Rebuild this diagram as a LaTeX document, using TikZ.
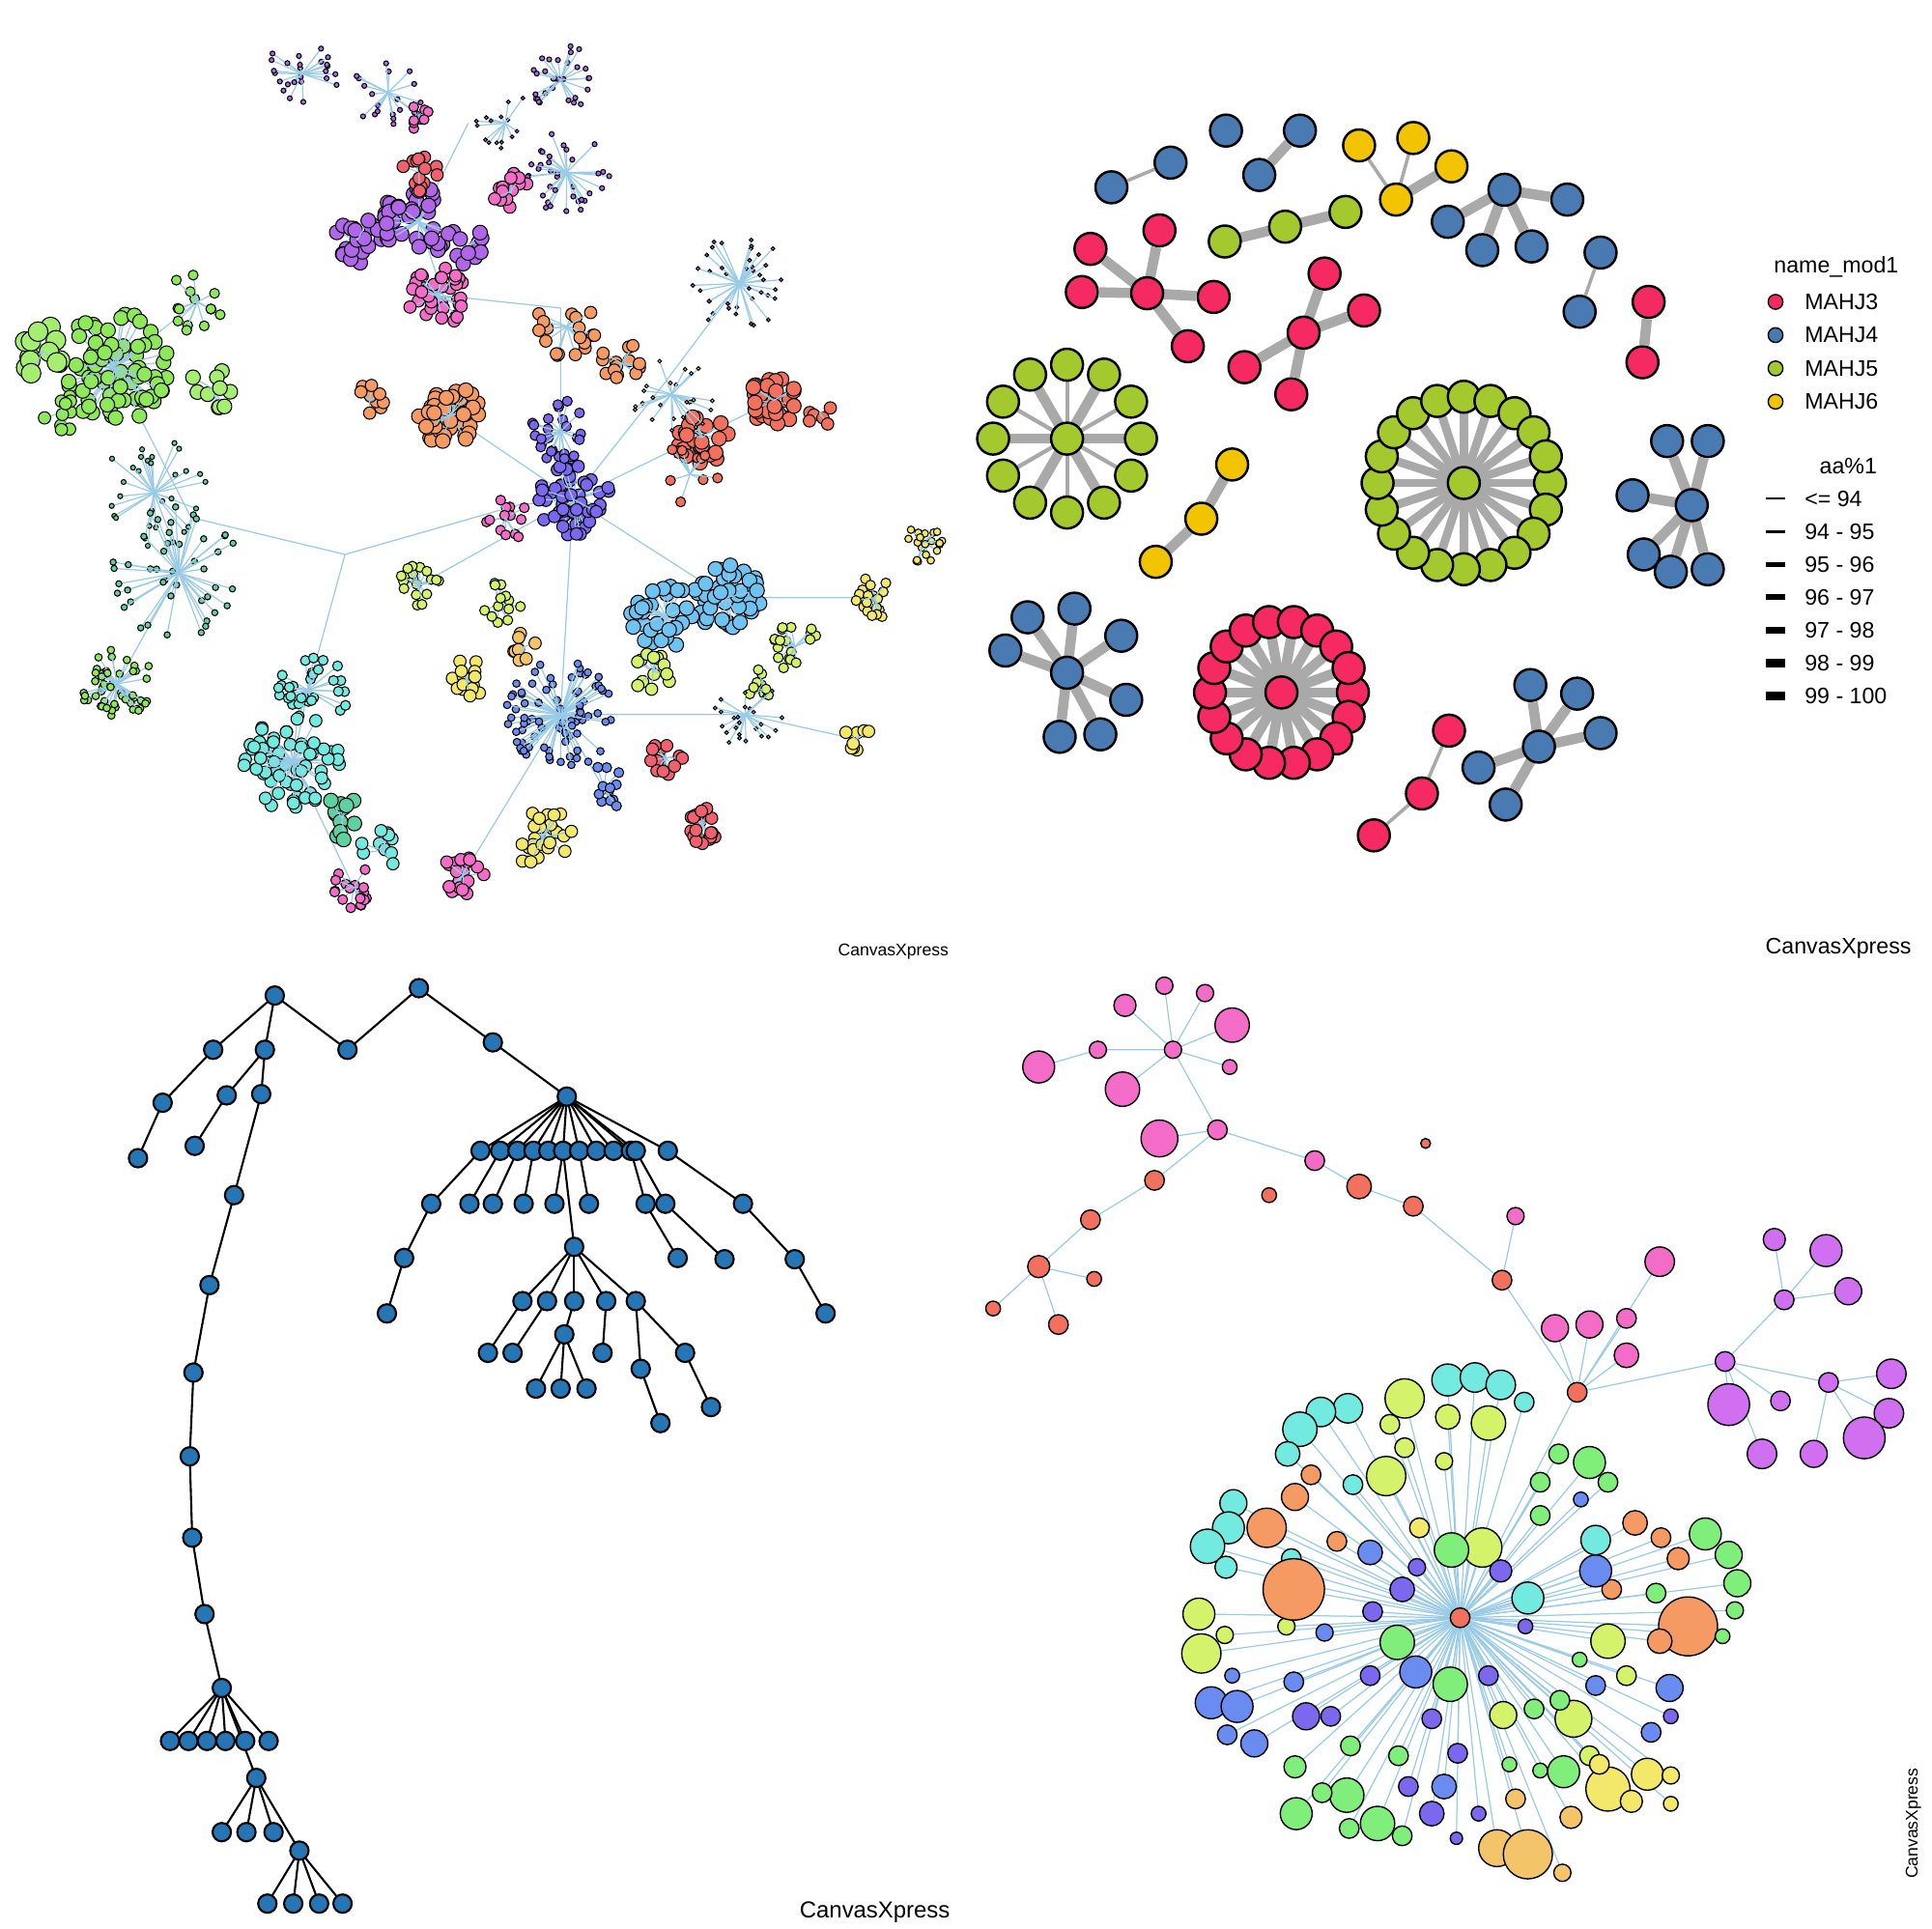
\documentclass[tikz,border=0pt]{standalone}
\usepackage{fontspec}
\setmainfont{Liberation Sans}
\usetikzlibrary{calc}
\def\u{0.3616pt}
\definecolor{cR}{HTML}{F52A63}
\definecolor{cB}{HTML}{4A7AB2}
\definecolor{cG}{HTML}{A4C92E}
\definecolor{cY}{HTML}{F2C400}
\definecolor{tB}{HTML}{2676B5}
\definecolor{eL}{HTML}{9ACBE6}
\definecolor{eG}{HTML}{A9A9A9}
\definecolor{kGreen}{HTML}{8EE85A}
\definecolor{kLGreen}{HTML}{A6EE72}
\definecolor{kTeal}{HTML}{5FD0A0}
\definecolor{kCyan}{HTML}{72EAE0}
\definecolor{kPink}{HTML}{F26CC8}
\definecolor{kPurple}{HTML}{B066E8}
\definecolor{kRed}{HTML}{F0606E}
\definecolor{kOrange}{HTML}{F59A62}
\definecolor{kSalmon}{HTML}{F2705E}
\definecolor{kViolet}{HTML}{7B68EE}
\definecolor{kSky}{HTML}{6EC3F0}
\definecolor{kLime}{HTML}{D4F26A}
\definecolor{kYellow}{HTML}{F4E86A}
\definecolor{kBlue}{HTML}{6A8CF0}
\definecolor{kLOr}{HTML}{F4C46A}
\definecolor{kGr2}{HTML}{80EE7A}
\definecolor{kMag}{HTML}{D070F0}
\tikzset{
 trn/.style={circle,draw=black,line width=0.7pt,inner sep=0pt,minimum size=26*\u},
 rn/.style={trn,fill=cR}, bn/.style={trn,fill=cB}, gn/.style={trn,fill=cG}, yn/.style={trn,fill=cY},
 te/.style={draw=eG,line width=3pt}, tt/.style={draw=eG,line width=1pt},
 bl/.style={circle,draw=black,line width=0.6pt,fill=tB,inner sep=0pt,minimum size=15*\u},
 be/.style={draw=black,line width=0.6pt},
 tl/.style={draw=eL,line width=0.35pt},
 brn/.style={circle,draw=black,line width=0.4pt,inner sep=0pt},
}
\newcommand\clus[6]{%
 \foreach \i in {1,...,#4}{%
  \pgfmathsetmacro\aa{rnd*360}\pgfmathsetmacro\rr{#3*sqrt(rnd)}%
  \draw[tl] (#1,#2) -- ++(\aa:\rr);
  \filldraw[fill=#6,draw=black,line width=0.3pt] (#1,#2) ++(\aa:\rr) circle[radius=#5*\u];}}
\newcommand\bnode[4]{\node[brn,fill=#4,minimum size=2*#3*\u] (#1) at (#2) {};}
\begin{document}
\begin{tikzpicture}[x=0.012755cm,y=-0.012755cm]
\useasboundingbox (0,0) rectangle (1568,1565);
\pgfmathsetseed{7}
% ---------- top-left ----------
\draw[tl] (93,298)--(155,420)--(145,465)--(95,555);
\draw[tl] (155,420)--(280,450)--(250,560)--(238,618);
\draw[tl] (280,450)--(420,410)--(465,405)--(455,350)--(455,250)--(360,240)--(340,180)--(380,100);
\draw[tl] (465,405)--(455,580)--(490,640); \draw[tl] (455,580)--(376,710);
\draw[tl] (465,405)--(590,485)--(710,485); \draw[tl] (465,405)--(628,325);
\draw[tl] (365,337)--(465,405)--(540,310)--(600,230);
\draw[tl] (238,618)--(287,720); \draw[tl] (455,580)--(605,580)--(695,600);
\draw[tl] (340,475)--(465,405); \draw[tl] (93,298)--(160,245);
\clus{93}{298}{45}{70}{6}{kGreen}
\clus{35}{285}{22}{12}{8}{kLGreen}
\clus{160}{245}{25}{14}{4}{kGreen}
\clus{172}{315}{18}{10}{6}{kLGreen}
\clus{50}{335}{15}{10}{5}{kGreen}
\clus{125}{400}{45}{30}{2}{kTeal}
\clus{145}{465}{55}{45}{2.5}{kTeal}
\clus{95}{555}{30}{50}{3}{kGreen}
\clus{250}{560}{35}{30}{4}{kCyan}
\clus{238}{618}{40}{60}{5}{kCyan}
\clus{278}{665}{18}{12}{6}{kTeal}
\clus{310}{690}{18}{10}{5}{kCyan}
\clus{287}{720}{17}{18}{4}{kPink}
\clus{376}{710}{17}{22}{5}{kPink}
\clus{245}{60}{30}{25}{2}{kPurple}
\clus{315}{75}{30}{20}{2}{kPurple}
\clus{455}{65}{30}{30}{2}{kPurple}
\clus{460}{140}{35}{35}{2}{kPurple}
\clus{415}{155}{15}{14}{5}{kPink}
\clus{290}{195}{20}{22}{6}{kPurple}
\clus{340}{180}{30}{40}{6}{kPurple}
\clus{355}{240}{25}{35}{5}{kPink}
\clus{380}{200}{15}{10}{6}{kPurple}
\clus{340}{140}{15}{14}{5}{kRed}
\clus{338}{95}{12}{8}{4}{kPink}
\clus{365}{337}{25}{45}{6}{kOrange}
\clus{300}{325}{14}{10}{5}{kOrange}
\clus{460}{265}{25}{18}{5}{kOrange}
\clus{505}{295}{18}{14}{5}{kOrange}
\clus{628}{325}{20}{35}{6}{kSalmon}
\clus{570}{355}{22}{25}{6}{kSalmon}
\clus{665}{335}{12}{6}{5}{kSalmon}
\clus{560}{385}{25}{12}{4}{kSalmon}
\clus{465}{405}{30}{55}{5}{kViolet}
\clus{455}{350}{25}{25}{4}{kViolet}
\clus{410}{420}{20}{14}{4}{kPink}
\clus{590}{485}{28}{45}{6}{kSky}
\clus{540}{500}{28}{30}{6}{kSky}
\clus{340}{475}{17}{18}{4}{kLime}
\clus{405}{490}{18}{14}{4}{kLime}
\clus{530}{545}{17}{14}{5}{kLime}
\clus{645}{525}{20}{18}{4}{kLime}
\clus{710}{485}{17}{18}{4}{kYellow}
\clus{750}{440}{17}{22}{3}{kYellow}
\clus{695}{600}{12}{8}{5}{kYellow}
\clus{620}{560}{18}{10}{4}{kLime}
\clus{455}{580}{45}{80}{3}{kBlue}
\clus{490}{640}{18}{12}{4}{kBlue}
\clus{378}{550}{17}{14}{5}{kYellow}
\clus{440}{680}{25}{25}{5}{kYellow}
\clus{425}{525}{12}{8}{5}{kLOr}
\clus{540}{615}{14}{14}{5}{kRed}
\clus{570}{670}{15}{20}{5}{kRed}
\clus{600}{230}{40}{40}{1.5}{kPurple}
\clus{605}{580}{30}{25}{1.5}{kSky}
\clus{545}{320}{35}{25}{1.5}{kYellow}
\clus{410}{100}{25}{15}{1.5}{kPurple}
\node[font=\fontsize{5pt}{6pt}\selectfont] (cx1) at (725,772) {CanvasXpress};
% ---------- top-right ----------
\node[bn] (b1) at (902,152){}; \node[bn] (b2) at (950,132){}; \node[bn] (b3) at (995,106){};
\node[bn] (b4) at (1022,142){}; \node[bn] (b5) at (1055,106){};
\draw[tt] (b1)--(b2); \draw[te] (b4)--(b5);
\draw[tt] (1103,118)--(1133,162); \draw[tt] (1147,112)--(1133,162); \draw[te] (1133,162)--(1178,135);
\node[yn] (y1) at (1103,118){}; \node[yn] (y2) at (1147,112){}; \node[yn] (y3) at (1133,162){}; \node[yn] (y4) at (1178,135){};
\draw[te] (994,196)--(1043,184)--(1092,172);
\node[gn] (g1) at (994,196){}; \node[gn] (g2) at (1043,184){}; \node[gn] (g3) at (1092,172){};
\foreach \p/\n in {{1175,180}/s1,{1203,203}/s2,{1243,200}/s3,{1272,162}/s4}{\node[bn] (\n) at (\p){}; \draw[te] (1221,154)--(\n);}
\node[bn] (s0) at (1221,154){};
\node[bn] (p1) at (1299,205){}; \node[bn] (p2) at (1282,253){}; \draw[tt] (p1)--(p2);
\node[rn] (q1) at (1338,245){}; \node[rn] (q2) at (1333,294){}; \draw[te] (q1)--(q2);
\foreach \p/\n in {{885,202}/r1,{941,187}/r2,{878,237}/r3,{985,241}/r4,{964,281}/r5}{\node[rn] (\n) at (\p){}; \draw[te] (931,238)--(\n);}
\node[rn] (r0) at (931,238){};
\foreach \p/\n in {{1075,222}/t1,{1107,252}/t2,{1010,298}/t3,{1048,320}/t4}{\node[rn] (\n) at (\p){}; \draw[te] (1058,270)--(\n);}
\node[rn] (t0) at (1058,270){};
\foreach \a in {0,30,...,330}{\pgfmathsetmacro\w{mod(\a,60)==0?3:1.2}\draw[draw=eG,line width=\w pt] (866,356)--++(\a:60); \node[gn] at ($(866,356)+(\a:60)$){};}
\node[gn] (gc) at (866,356){};
\draw[te] (1000,377)--(975,421)--(938,456);
\node[yn] (w1) at (1000,377){}; \node[yn] (w2) at (975,421){}; \node[yn] (w3) at (938,456){};
\foreach \a in {0,18,...,342}{\draw[draw=eG,line width=2.5pt] (1188,392)--++(\a:70);}
\foreach \a in {0,18,...,342}{\node[gn] at ($(1188,392)+(\a:70)$){};}
\node[gn] (gc2) at (1188,392){};
\foreach \p/\n in {{1353,358}/u1,{1386,358}/u2,{1325,402}/u3,{1334,450}/u4,{1356,464}/u5,{1386,462}/u6}{\node[bn] (\n) at (\p){}; \draw[te] (1373,410)--(\n);}
\node[bn] (u0) at (1373,410){};
\foreach \p/\n in {{834,501}/v1,{872,494}/v2,{910,516}/v3,{816,528}/v4,{914,568}/v5,{860,598}/v6,{893,596}/v7}{\node[bn] (\n) at (\p){}; \draw[te] (866,546)--(\n);}
\node[bn] (v0) at (866,546){};
\foreach \a in {0,20,...,340}{\draw[draw=eG,line width=3pt] (1040,562)--++(\a:58);}
\foreach \a in {0,20,...,340}{\node[rn] at ($(1040,562)+(\a:58)$){};}
\node[rn] (rc) at (1040,562){};
\foreach \p/\n in {{1242,556}/x1,{1280,563}/x2,{1299,595}/x3,{1200,623}/x4,{1222,653}/x5}{\node[bn] (\n) at (\p){}; \draw[te] (1249,606)--(\n);}
\node[bn] (x0) at (1249,606){};
\draw[tt] (1176,593)--(1154,644)--(1115,678);
\node[rn] (z1) at (1176,593){}; \node[rn] (z2) at (1154,644){}; \node[rn] (z3) at (1115,678){};
% legend
\begin{scope}[font=\fontsize{6.6pt}{8pt}\selectfont]
\node[anchor=west] (lt) at (1430,217) {name\_mod1};
\foreach \c/\t [count=\k] in {cR/MAHJ3,cB/MAHJ4,cG/MAHJ5,cY/MAHJ6}{
 \node[circle,fill=\c,draw=black,line width=0.4pt,minimum size=12*\u,inner sep=0pt] (lc\k) at (1441,218+27*\k){};
 \node[anchor=west] (ll\k) at (1455,218+27*\k){\t};}
\node (at) at (1500,378) {aa\%1};
\foreach \t [count=\k] in {{<= 94},{94 - 95},{95 - 96},{96 - 97},{97 - 98},{98 - 99},{99 - 100}}{
 \pgfmathsetmacro\lw{0.3+0.35*\k}
 \draw[line width=\lw pt] (1433,378+26.7*\k)--(1449,378+26.7*\k);
 \node[anchor=west] (la\k) at (1455,378+26.7*\k){\t};}
\node (cx2) at (1492,770) {CanvasXpress};
\end{scope}
% ---------- bottom-left ----------
\foreach \n/\p in {a/{223,808},b/{340,802},c/{282,852},d/{400,846},e/{460,890},f/{173,852},g/{215,852},
 f1/{132,895},f2/{112,940},g1/{184,889},g2/{158,930},h1/{212,888},h2/{190,970},h3/{170,1043},h4/{157,1114},h5/{154,1182},h6/{156,1248},h7/{166,1310},h8/{180,1370},
 k1/{138,1413},k2/{153,1413},k3/{168,1413},k4/{183,1413},k5/{199,1413},k6/{218,1413},m/{208,1443},m1/{180,1487},m2/{200,1487},m3/{222,1487},n/{243,1502},n1/{217,1545},n2/{238,1545},n3/{259,1545},n4/{278,1545},
 e1/{390,934},e2/{406,934},e3/{420,934},e4/{433,934},e5/{445,934},e6/{457,934},e7/{470,934},e8/{484,934},e9/{498,934},e10/{512,934},e11/{516,934},e12/{542,934},
 o1/{350,977},o2/{328,1021},o3/{314,1066},o4/{381,977},o5/{400,977},o6/{425,977},o7/{450,977},o8/{478,977},o9/{524,977},o10/{550,1021},o11/{540,977},o12/{588,1022},o13/{603,977},o14/{645,1022},o15/{670,1066},
 p/{466,1012},p1/{424,1056},p2/{444,1056},p3/{466,1056},p4/{492,1056},p5/{516,1056},
 q1/{396,1098},q2/{416,1098},q3/{458,1083},q4/{489,1098},q5/{520,1111},q6/{556,1098},q7/{435,1127},q8/{455,1127},q9/{476,1127},q10/{536,1155},q11/{577,1142}}
 {\coordinate (T\n) at (\p);}
\foreach \x/\y in {a/c,c/b,b/d,d/e,a/f,a/g,f/f1,f1/f2,g/g1,g1/g2,g/h1,h1/h2,h2/h3,h3/h4,h4/h5,h5/h6,h6/h7,h7/h8,h8/k1,h8/k2,h8/k3,h8/k4,h8/k5,h8/k6,h8/m,m/m1,m/m2,m/m3,m/n,n/n1,n/n2,n/n3,n/n4,
 e/e1,e/e2,e/e3,e/e4,e/e5,e/e6,e/e7,e/e8,e/e9,e/e10,e/e11,e/e12,e1/o1,o1/o2,o2/o3,e2/o4,e3/o5,e4/o6,e6/o7,e7/o8,e10/o9,o9/o10,e11/o11,o11/o12,e12/o13,o13/o14,o14/o15,
 e6/p,p/p1,p/p2,p/p3,p/p4,p/p5,p1/q1,p2/q2,p3/q3,p4/q4,p5/q5,p5/q6,q3/q7,q3/q8,q3/q9,q5/q10,q6/q11}{\draw[be] (T\x)--(T\y);}
\foreach \n in {a,b,c,d,e,f,g,f1,f2,g1,g2,h1,h2,h3,h4,h5,h6,h7,h8,k1,k2,k3,k4,k5,k6,m,m1,m2,m3,n,n1,n2,n3,n4,e1,e2,e3,e4,e5,e6,e7,e8,e9,e10,e11,e12,o1,o2,o3,o4,o5,o6,o7,o8,o9,o10,o11,o12,o13,o14,o15,p,p1,p2,p3,p4,p5,q1,q2,q3,q4,q5,q6,q7,q8,q9,q10,q11}{\node[bl] (N\n) at (T\n){};}
\node[font=\fontsize{6.8pt}{8pt}\selectfont] (cx3) at (710,1552) {CanvasXpress};
% ---------- bottom-right ----------
\draw[tl] (952,852)--(945,800); \draw[tl] (952,852)--(978,806); \draw[tl] (952,852)--(913,816); \draw[tl] (952,852)--(1000,832);
\draw[tl] (952,852)--(891,852)--(843,866); \draw[tl] (952,852)--(998,866); \draw[tl] (952,852)--(911,884); \draw[tl] (952,852)--(988,917);
\draw[tl] (988,917)--(941,924); \draw[tl] (988,917)--(1067,942)--(1103,963)--(1147,979)--(1219,1039)--(1280,1130);
\draw[tl] (988,917)--(937,958)--(885,990)--(843,1028)--(806,1062); \draw[tl] (843,1028)--(859,1075); \draw[tl] (843,1028)--(888,1038);
\draw[tl] (1230,987)--(1219,1039);
\foreach \p in {{1262,1078},{1290,1075},{1320,1070},{1347,1024},{1320,1100},{1400,1105},{1185,1313}}{\draw[tl] (1280,1130)--(\p);}
\foreach \p in {{1448,1055},{1445,1137},{1403,1140},{1430,1180},{1484,1122}}{\draw[tl] (1400,1105)--(\p);}
\foreach \p in {{1440,1006},{1482,1015},{1500,1048}}{\draw[tl] (1448,1055)--(\p);}
\foreach \p in {{1535,1115},{1533,1147},{1513,1167},{1472,1180}}{\draw[tl] (1484,1122)--(\p);}
\def\cyanL{{1175,1120}/13,{1197,1118}/12,{1218,1124}/12,{1237,1138}/8,{1094,1143}/12,{1072,1146}/12,{1055,1160}/14,{1045,1180}/10,{1098,1205}/8,{1001,1220}/11,{997,1240}/13,{980,1255}/14,{995,1272}/9,{1048,1265}/8,{1240,1297}/13,{1295,1250}/12}
\def\limeL{{1140,1135}/16,{1128,1156}/8,{1175,1150}/10,{1208,1155}/14,{1125,1198}/16,{1140,1175}/8,{1172,1186}/7,{1203,1256}/16,{973,1310}/13,{975,1342}/16,{994,1327}/7,{1044,1320}/7,{1305,1332}/14,{1320,1360}/8,{1220,1392}/11,{1277,1395}/15,{1290,1425}/8}
\def\orL{{1064,1197}/8,{1051,1215}/11,{1028,1240}/16,{1050,1290}/25,{1085,1251}/8,{1308,1290}/8,{1327,1236}/10,{1348,1248}/8,{1362,1265}/9,{1370,1320}/24,{1347,1332}/10}
\def\loL{{1230,1460}/8,{1215,1500}/15,{1240,1505}/20,{1268,1520}/7,{1275,1475}/9}
\def\grL{{1265,1180}/8,{1290,1187}/13,{1305,1203}/8,{1250,1203}/8,{1250,1230}/8,{1384,1245}/13,{1403,1262}/11,{1410,1285}/11,{1408,1307}/7,{1398,1328}/6,{1344,1293}/8,{1282,1347}/6,{1266,1380}/8,{1245,1387}/8,{1269,1438}/13,{1225,1432}/6,{1250,1437}/6,{1178,1258}/14,{1177,1367}/14,{1134,1333}/14,{1096,1417}/8,{1051,1434}/9,{1093,1457}/14,{1073,1455}/8,{1052,1472}/13,{1095,1484}/8,{1118,1480}/14,{1138,1490}/8,{1135,1425}/8}
\def\blL{{1112,1260}/10,{1283,1217}/6,{1295,1275}/13,{1149,1357}/13,{1050,1365}/8,{1000,1360}/6,{983,1382}/13,{1004,1385}/13,{996,1408}/8,{1018,1415}/11,{1295,1368}/8,{1355,1370}/11,{1340,1406}/8,{1172,1450}/10,{1075,1325}/7}
\def\puL{{1138,1290}/10,{1150,1272}/7,{1218,1275}/9,{1114,1308}/8,{1060,1393}/11,{1080,1393}/8,{1112,1360}/8,{1162,1395}/8,{1208,1360}/8,{1183,1423}/8,{1143,1450}/8,{1162,1472}/10,{1182,1492}/5,{1200,1472}/6,{1238,1320}/6,{1356,1393}/6}
\def\yeL{{1152,1240}/8,{1305,1452}/18,{1298,1432}/8,{1337,1440}/13,{1356,1441}/7,{1324,1462}/9,{1356,1464}/6}
\foreach \p/\r in \cyanL {\draw[tl] (1185,1313)--(\p);}
\foreach \p/\r in \limeL {\draw[tl] (1185,1313)--(\p);}
\foreach \p/\r in \orL {\draw[tl] (1185,1313)--(\p);}
\foreach \p/\r in \loL {\draw[tl] (1185,1313)--(\p);}
\foreach \p/\r in \grL {\draw[tl] (1185,1313)--(\p);}
\foreach \p/\r in \blL {\draw[tl] (1185,1313)--(\p);}
\foreach \p/\r in \puL {\draw[tl] (1185,1313)--(\p);}
\foreach \p/\r in \yeL {\draw[tl] (1185,1313)--(\p);}
\foreach \p/\r [count=\k] in \cyanL {\bnode{ci\k}{\p}{\r}{kCyan}}
\foreach \p/\r [count=\k] in \limeL {\bnode{li\k}{\p}{\r}{kLime}}
\foreach \p/\r [count=\k] in \orL {\bnode{or\k}{\p}{\r}{kOrange}}
\foreach \p/\r [count=\k] in \loL {\bnode{lo\k}{\p}{\r}{kLOr}}
\foreach \p/\r [count=\k] in \grL {\bnode{gr\k}{\p}{\r}{kGr2}}
\foreach \p/\r [count=\k] in \blL {\bnode{bl\k}{\p}{\r}{kBlue}}
\foreach \p/\r [count=\k] in \puL {\bnode{pu\k}{\p}{\r}{kViolet}}
\foreach \p/\r [count=\k] in \yeL {\bnode{ye\k}{\p}{\r}{kYellow}}
\foreach \p/\r [count=\k] in {{945,800}/7,{978,806}/7,{913,816}/9,{1000,832}/14,{952,852}/7,{891,852}/7,{843,866}/13,{998,866}/6,{911,884}/14,{988,917}/8,{941,924}/15,{1067,942}/8,{1230,987}/7,{1262,1078}/11,{1290,1075}/11,{1320,1070}/8,{1347,1024}/12,{1320,1100}/10}{\bnode{pk\k}{\p}{\r}{kPink}}
\foreach \p/\r [count=\k] in {{937,958}/8,{1103,963}/10,{1030,970}/6,{1157,928}/4,{1147,979}/8,{885,990}/8,{843,1028}/9,{888,1038}/6,{806,1062}/6,{859,1075}/8,{1219,1039}/8,{1280,1130}/8,{1185,1313}/8}{\bnode{rd\k}{\p}{\r}{kSalmon}}
\foreach \p/\r [count=\k] in {{1400,1105}/8,{1448,1055}/8,{1440,1006}/9,{1482,1015}/13,{1500,1048}/11,{1445,1137}/8,{1403,1140}/17,{1430,1180}/12,{1484,1122}/8,{1535,1115}/12,{1533,1147}/12,{1513,1167}/17,{1472,1180}/11}{\bnode{mv\k}{\p}{\r}{kMag}}
\node[rotate=90,font=\fontsize{5pt}{6pt}\selectfont] (cx4) at (1553,1480) {CanvasXpress};
\end{tikzpicture}
\end{document}
